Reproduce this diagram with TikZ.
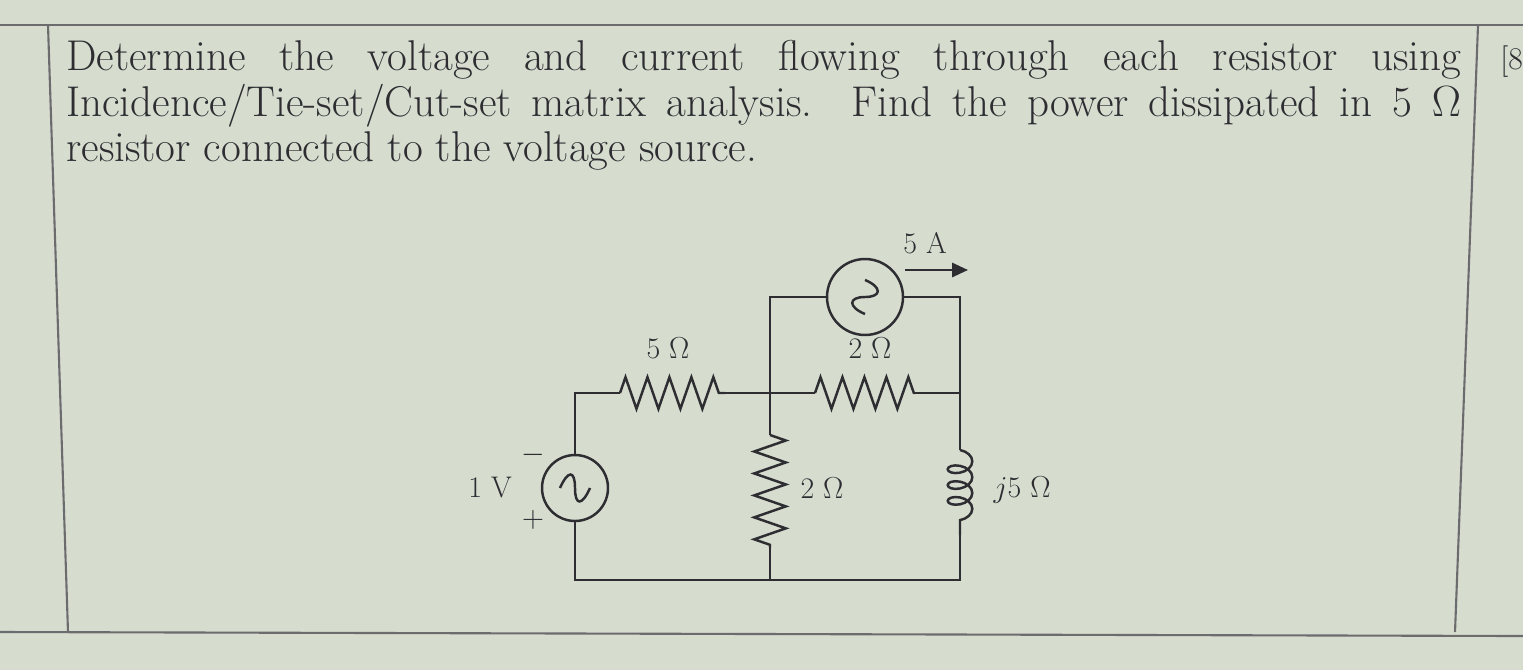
\documentclass[tikz,border=0pt]{standalone}
\usetikzlibrary{decorations.pathmorphing,arrows.meta}
\definecolor{bg}{RGB}{214,220,206}
\definecolor{ink}{RGB}{45,45,50}
\begin{document}
\begin{tikzpicture}[x=0.02cm,y=-0.02cm,
  wire/.style={ink,line width=1.4pt},
  frame/.style={ink!70,line width=1.2pt},
  res/.style={wire,decorate,decoration={zigzag,segment length=12.5,amplitude=9}},
  ind/.style={wire,decorate,decoration={coil,aspect=0.6,segment length=9,amplitude=7}},
  lbl/.style={ink,font=\fontsize{17}{19}\selectfont},
  src/.style={wire,circle,draw,fill=bg}]
\fill[bg] (0,0) rectangle (1523,670);
\useasboundingbox (0,0) rectangle (1523,670);
\draw[frame] (0,25) -- (1523,25);
\draw[frame] (0,632) -- (1523,636);
\draw[frame] (48,25) -- (68,632);
\draw[frame] (1478,25) -- (1455,632);
\node[ink,anchor=north west,text width=27.9cm,align=justify,inner sep=0pt,
  font=\fontsize{24.5}{26}\selectfont] (txt) at (66,40)
 {Determine the voltage and current flowing through each resistor using\linebreak Incidence/Tie-set/Cut-set matrix analysis.\ \ Find the power dissipated in 5 $\Omega$\linebreak resistor connected to the voltage source.};
\node[ink,font=\fontsize{18}{20}\selectfont,anchor=west,inner sep=0pt] (br) at (1500,62) {[8};
% nodes
\coordinate (tl) at (575,393);
\coordinate (a) at (770,393);
\coordinate (b) at (960,393);
\coordinate (bl) at (575,580);
\coordinate (bm) at (770,580);
\coordinate (br2) at (960,580);
\coordinate (ct) at (770,297);
\coordinate (cr) at (960,297);
\node[src,minimum size=1.32cm] (vs) at (575,488) {};
\draw[wire] (560,488) .. controls (568,470) and (575,470) .. (575,488) .. controls (575,506) and (582,506) .. (590,488);
\node[src,minimum size=1.52cm] (cs) at (865,297) {};
\draw[wire] (865,280) .. controls (882,287) and (882,297) .. (865,297) .. controls (848,297) and (848,307) .. (865,314);
% wires
\draw[wire] (vs) -- (tl) -- (620,393);
\draw[res] (620,393) -- (725,393);
\draw[wire] (725,393) -- (a) -- (815,393);
\draw[res] (815,393) -- (915,393);
\draw[wire] (915,393) -- (b) -- (960,450);
\draw[ind] (960,450) -- (960,535);
\draw[wire] (960,535) -- (br2) -- (bm) -- (bl) -- (vs);
\draw[wire] (a) -- (770,435);
\draw[res] (770,435) -- (770,548);
\draw[wire] (770,548) -- (bm);
\draw[wire] (a) -- (ct) -- (cs);
\draw[wire] (cs) -- (cr) -- (b);
\draw[wire,-{Triangle[length=9pt,width=8pt]}] (905,270) -- (968,270);
% labels
\node[lbl] (l1) at (490,488) {1 V};
\node[lbl] (lm) at (533,455) {$-$};
\node[lbl] (lp) at (533,520) {$+$};
\node[lbl] (l2) at (668,348) {5 $\Omega$};
\node[lbl] (l3) at (870,348) {2 $\Omega$};
\node[lbl] (l4) at (822,488) {2 $\Omega$};
\node[lbl] (l5) at (1022,490) {$j$5 $\Omega$};
\node[lbl] (l6) at (925,243) {5 A};
\end{tikzpicture}
\end{document}
